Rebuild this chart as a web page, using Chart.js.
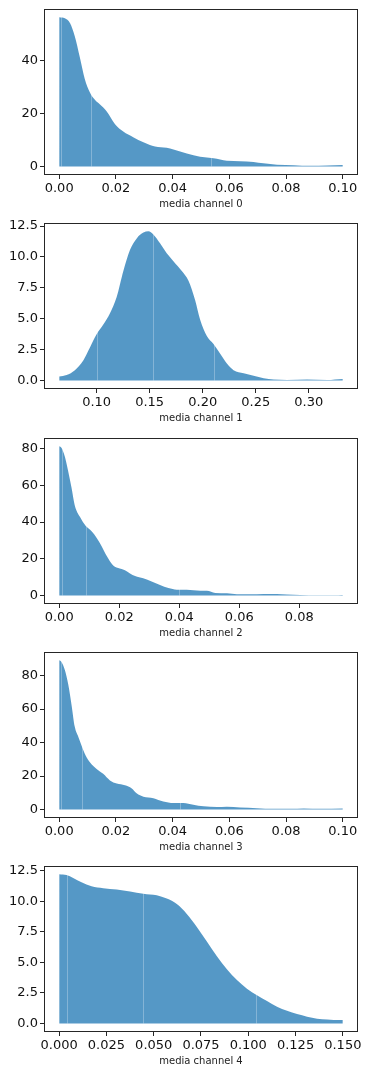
<!DOCTYPE html>
<html>
<head>
<meta charset="utf-8">
<script src="https://cdn.jsdelivr.net/npm/chart.js@4.4.0/dist/chart.umd.min.js"></script>
<style>
  html, body { margin: 0; padding: 0; background: #fff; }
  #wrap { position: relative; width: 365px; height: 1072px; }
  .panel { position: absolute; left: 0; width: 365px; height: 214px; }
</style>
</head>
<body>
<div id="wrap"></div>
<script>
// ---- data (density curves per media channel) ----
const channelLabels = ['media channel 0', 'media channel 1', 'media channel 2', 'media channel 3', 'media channel 4'];

const ch0X = [0, 0.002, 0.0038, 0.0055, 0.0073, 0.009, 0.0108, 0.0126, 0.0144, 0.0167, 0.0197, 0.0226, 0.0261, 0.0297, 0.0338, 0.0379, 0.0403, 0.045, 0.0497, 0.0544, 0.0591, 0.0638, 0.0685, 0.072, 0.0768, 0.0827, 0.0886, 0.0945, 0.1];
const ch0Y = [56.4, 56.0, 54.2, 49.2, 41.2, 33.2, 28.1, 25.2, 23.4, 20.9, 16.0, 13.2, 11.1, 9.2, 7.6, 7.1, 6.4, 4.9, 3.7, 3.1, 2.2, 2.0, 1.7, 1.2, 0.7, 0.5, 0.25, 0.35, 0.6];

const ch1X = [0.0647, 0.0717, 0.0795, 0.0874, 0.0937, 0.100, 0.1063, 0.1126, 0.1189, 0.1252, 0.1315, 0.1378, 0.1441, 0.1488, 0.1535, 0.1598, 0.1661, 0.1724, 0.1803, 0.1866, 0.1929, 0.1976, 0.2039, 0.2102, 0.2165, 0.2228, 0.2291, 0.2386, 0.248, 0.2575, 0.2669, 0.2795, 0.2984, 0.3173, 0.3321];
const ch1Y = [0.32, 0.45, 0.84, 1.63, 2.68, 3.74, 4.53, 5.45, 6.76, 8.87, 10.58, 11.5, 11.97, 12.08, 11.82, 11.1, 10.3, 9.66, 8.87, 8.08, 6.5, 4.92, 3.6, 2.95, 2.16, 1.37, 0.84, 0.58, 0.39, 0.18, 0.08, 0.05, 0.08, 0.05, 0.13];

const ch2X = [0, 0.0008, 0.0019, 0.003, 0.0041, 0.0052, 0.0069, 0.0088, 0.0108, 0.0125, 0.0141, 0.0158, 0.018, 0.0202, 0.0219, 0.0236, 0.0253, 0.028, 0.0308, 0.0336, 0.0364, 0.0392, 0.0425, 0.047, 0.0492, 0.052, 0.0559, 0.0592, 0.0636, 0.0681, 0.0725, 0.0759, 0.0803, 0.0859, 0.0915, 0.0945];
const ch2Y = [81.3, 80.4, 75.6, 67.7, 58.8, 49.1, 42.9, 38.0, 35.0, 31.4, 27.0, 21.7, 16.4, 14.7, 13.8, 12.0, 10.6, 9.4, 7.6, 5.8, 4.1, 3.2, 3.2, 2.65, 2.65, 1.4, 1.2, 0.7, 0.7, 0.9, 0.9, 0.5, 0.35, 0.2, 0.2, 0.35];

const ch3X = [0, 0.0008, 0.002, 0.0032, 0.0044, 0.0055, 0.0067, 0.0082, 0.0097, 0.0114, 0.0132, 0.0155, 0.0179, 0.0203, 0.0232, 0.0256, 0.0273, 0.0297, 0.0332, 0.0367, 0.0403, 0.0438, 0.0473, 0.0509, 0.0556, 0.0591, 0.0638, 0.0697, 0.0756, 0.0815, 0.0862, 0.0921, 0.1];
const ch3Y = [89.1, 88.1, 83.3, 74.6, 62.0, 49.4, 43.6, 36.8, 31.0, 27.1, 24.2, 21.3, 17.4, 15.5, 14.5, 12.6, 9.7, 7.7, 6.8, 4.8, 3.9, 3.9, 2.9, 1.9, 1.5, 1.7, 1.2, 0.8, 0.4, 0.4, 0.6, 0.4, 0.6];

const ch4X = [0, 0.0039, 0.0074, 0.0118, 0.0171, 0.0233, 0.0304, 0.0375, 0.0445, 0.0516, 0.0569, 0.0622, 0.0675, 0.0728, 0.0781, 0.0834, 0.0887, 0.094, 0.0993, 0.1046, 0.1099, 0.1152, 0.1205, 0.1258, 0.1311, 0.1364, 0.1417, 0.1452, 0.15];
const ch4Y = [12.2, 12.13, 11.9, 11.54, 11.22, 11.06, 10.96, 10.8, 10.61, 10.48, 10.21, 9.76, 8.96, 7.9, 6.7, 5.5, 4.44, 3.56, 2.85, 2.31, 1.84, 1.38, 1.04, 0.77, 0.56, 0.4, 0.32, 0.29, 0.29];

// quantile marks (thin light seams inside the fill)
const ch0Marks = [0.0008, 0.0112, 0.0535];
const ch1Marks = [0.100, 0.1535, 0.2106];
const ch2Marks = [0.0008, 0.0088, 0.040];
const ch3Marks = [0.0006, 0.008, 0.0426];
const ch4Marks = [0.0039, 0.0442, 0.1042];

// tick labels
const ch0XTicks = [0, 0.02, 0.04, 0.06, 0.08, 0.10];
const ch1XTicks = [0.10, 0.15, 0.20, 0.25, 0.30];
const ch2XTicks = [0, 0.02, 0.04, 0.06, 0.08];
const ch3XTicks = [0, 0.02, 0.04, 0.06, 0.08, 0.10];
const ch4XTicks = [0, 0.025, 0.05, 0.075, 0.10, 0.125, 0.15];
const ch0YTicks = [0, 20, 40];
const ch1YTicks = [0, 2.5, 5, 7.5, 10, 12.5];
const ch2YTicks = [0, 20, 40, 60, 80];
const ch3YTicks = [0, 20, 40, 60, 80];
const ch4YTicks = [0, 2.5, 5, 7.5, 10, 12.5];

const panels = [
  { xs: ch0X, ys: ch0Y, marks: ch0Marks, xt: ch0XTicks, yt: ch0YTicks, xd: 2, yd: 0 },
  { xs: ch1X, ys: ch1Y, marks: ch1Marks, xt: ch1XTicks, yt: ch1YTicks, xd: 2, yd: 1 },
  { xs: ch2X, ys: ch2Y, marks: ch2Marks, xt: ch2XTicks, yt: ch2YTicks, xd: 2, yd: 0 },
  { xs: ch3X, ys: ch3Y, marks: ch3Marks, xt: ch3XTicks, yt: ch3YTicks, xd: 2, yd: 0 },
  { xs: ch4X, ys: ch4Y, marks: ch4Marks, xt: ch4XTicks, yt: ch4YTicks, xd: 3, yd: 1 }
];
const panelTops = [0, 214, 429, 643, 857];

Chart.defaults.font.family = "'DejaVu Sans', sans-serif";
Chart.defaults.color = '#111';

// axes frame + seam lines
const framePlugin = {
  id: 'frame',
  afterDatasetsDraw(chart, args, opts) {
    const { ctx, chartArea: a, scales } = chart;
    ctx.save();
    ctx.beginPath();
    ctx.rect(a.left, a.top, a.right - a.left, a.bottom - a.top);
    ctx.clip();
    ctx.strokeStyle = 'rgba(255,255,255,0.28)';
    ctx.lineWidth = 1;
    opts.marks.forEach(m => {
      const px = Math.round(scales.x.getPixelForValue(m)) + 0.5;
      ctx.beginPath();
      ctx.moveTo(px, scales.y.getPixelForValue(0));
      ctx.lineTo(px, a.top);
      ctx.stroke();
    });
    ctx.restore();
  },
  afterDraw(chart) {
    const { ctx, chartArea: a } = chart;
    ctx.save();
    ctx.strokeStyle = '#262626';
    ctx.lineWidth = 1;
    ctx.strokeRect(Math.round(a.left) - 0.5, Math.round(a.top) - 0.5,
                   Math.round(a.right - a.left) + 1, Math.round(a.bottom - a.top) + 1);
    ctx.restore();
  }
};

const wrap = document.getElementById('wrap');

panels.forEach((p, i) => {
  const box = document.createElement('div');
  box.className = 'panel';
  box.style.top = panelTops[i] + 'px';
  const cv = document.createElement('canvas');
  box.appendChild(cv);
  wrap.appendChild(box);

  const xmin = Math.min(...p.xs), xmax = Math.max(...p.xs);
  const ymax = Math.max(...p.ys);
  const xpad = (xmax - xmin) * 0.05;

  new Chart(cv.getContext('2d'), {
    type: 'line',
    data: {
      datasets: [{
        data: p.xs.map((x, k) => ({ x: x, y: p.ys[k] })),
        fill: 'origin',
        backgroundColor: 'rgba(31,119,180,0.76)',
        borderColor: 'transparent',
        borderWidth: 0,
        pointRadius: 0,
        cubicInterpolationMode: 'monotone'
      }]
    },
    options: {
      responsive: true,
      maintainAspectRatio: false,
      animation: false,
      layout: { padding: { top: 6, right: 8, left: 0, bottom: 0 } },
      plugins: {
        legend: { display: false },
        tooltip: { enabled: false },
        frame: { marks: p.marks }
      },
      scales: {
        x: {
          type: 'linear',
          min: xmin - xpad,
          max: xmax + xpad,
          afterBuildTicks: s => { s.ticks = p.xt.map(v => ({ value: v })); },
          afterFit: s => { s.height = 40; },
          border: { display: false },
          grid: { drawOnChartArea: false, drawTicks: true, tickLength: 5, color: '#262626' },
          ticks: {
            font: { size: 13 },
            color: '#111',
            padding: 2,
            maxRotation: 0,
            autoSkip: false,
            callback: v => Number(v).toFixed(p.xd)
          },
          title: {
            display: true,
            text: channelLabels[i],
            font: { size: 10 },
            color: '#222',
            padding: { top: 0, bottom: 4 }
          }
        },
        y: {
          min: -0.05 * ymax,
          max: 1.05 * ymax,
          afterBuildTicks: s => { s.ticks = p.yt.map(v => ({ value: v })); },
          afterFit: s => { s.width = 45; },
          border: { display: false },
          grid: { drawOnChartArea: false, drawTicks: true, tickLength: 5, color: '#262626' },
          ticks: {
            font: { size: 13 },
            color: '#111',
            padding: 2,
            autoSkip: false,
            callback: v => Number(v).toFixed(p.yd)
          }
        }
      }
    },
    plugins: [framePlugin]
  });
});
</script>
</body>
</html>
